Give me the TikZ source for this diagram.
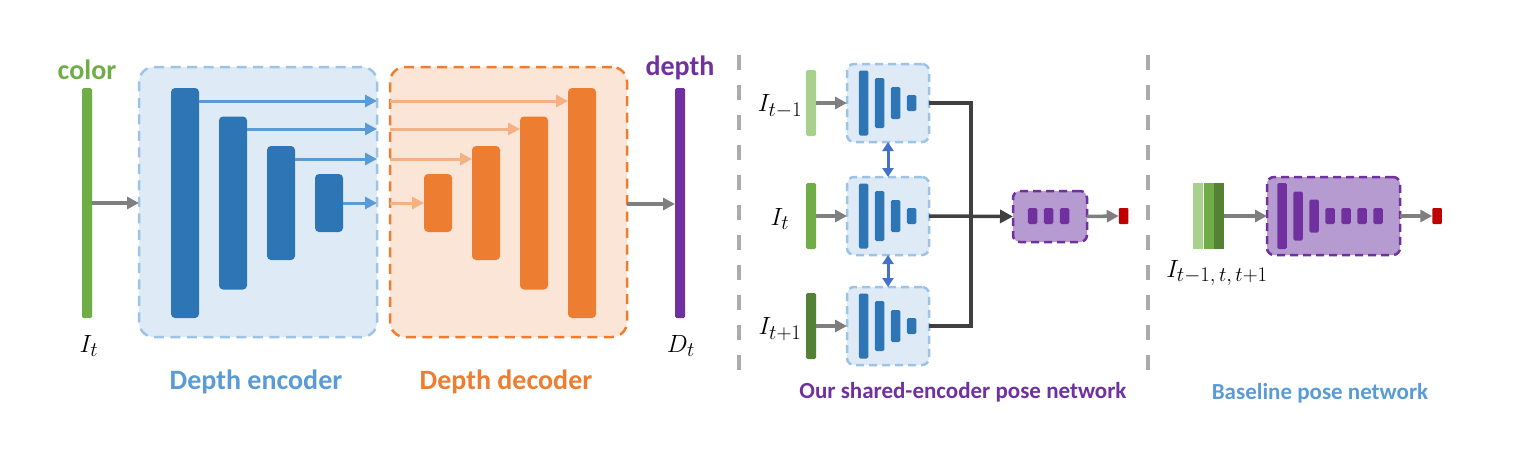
\documentclass[tikz,border=0pt]{standalone}
\usepackage{fontspec}
\setsansfont{Carlito}
\usetikzlibrary{arrows.meta, calc}

\definecolor{encblue}{HTML}{2E75B6}
\definecolor{encskipc}{HTML}{5B9BD5}
\definecolor{encfill}{HTML}{DEEBF7}
\definecolor{encborder}{HTML}{9DC3E6}
\definecolor{decorange}{HTML}{ED7D31}
\definecolor{decskipc}{HTML}{F4B183}
\definecolor{decfill}{HTML}{FBE5D6}
\definecolor{posepurple}{HTML}{7030A0}
\definecolor{posefill}{HTML}{B69BD0}
\definecolor{lgreen}{HTML}{A9D18E}
\definecolor{mgreen}{HTML}{70AD47}
\definecolor{dgreen}{HTML}{548235}
\definecolor{arrgray}{HTML}{7F7F7F}
\definecolor{linedark}{HTML}{404040}
\definecolor{sharedblue}{HTML}{4472C4}
\definecolor{outred}{HTML}{C00000}
\definecolor{sepgray}{HTML}{ABABAB}

\begin{document}
\begin{tikzpicture}[x=1pt, y=-1pt,
		every node/.style={inner sep=0pt, outer sep=0pt},
		blk/.style={rectangle, rounded corners=4pt, minimum width=28pt},
		encblk/.style={blk, fill=encblue},
		decblk/.style={blk, fill=decorange},
		smallblk/.style={rectangle, rounded corners=1.5pt, minimum width=9.5pt},
		bar/.style={rectangle, rounded corners=1.5pt, minimum width=10pt},
		encbox/.style={rectangle, rounded corners=15pt, fill=encfill, draw=encborder, line width=2.5pt, dash pattern=on 10pt off 6.5pt},
		decbox/.style={encbox, fill=decfill, draw=decorange},
		posebox/.style={rectangle, rounded corners=7pt, fill=encfill, draw=encborder, line width=2.5pt, dash pattern=on 8pt off 5pt},
		purplebox/.style={posebox, fill=posefill, draw=posepurple},
		outblk/.style={rectangle, rounded corners=1pt, fill=outred, minimum width=9.5pt, minimum height=16pt},
		encskip/.style={encskipc, line width=3pt, -{Triangle[length=12pt,width=12pt]}},
		decskip/.style={decskipc, line width=3pt, -{Triangle[length=12pt,width=12pt]}},
		grayarr/.style={arrgray, line width=3.5pt, -{Triangle[length=12pt,width=12pt]}},
		poseline/.style={linedark, line width=3.5pt},
		sharearr/.style={sharedblue, line width=3pt, {Triangle[length=9pt,width=11pt]}-{Triangle[length=9pt,width=11pt]}},
		sepline/.style={sepgray, line width=4pt, dash pattern=on 15pt off 15pt},
		biglabel/.style={font=\sffamily\bfseries\fontsize{28}{32}\selectfont},
		smalllabel/.style={font=\sffamily\bfseries\fontsize{23}{27}\selectfont},
		mathlabel/.style={font=\fontsize{24.88}{29}\selectfont}
	]
	\useasboundingbox (0,0) rectangle (1528,464);

	% depth network
	\node[encbox, minimum width=238, minimum height=270] (enc) at (258,202) {};
	\node[decbox, minimum width=237, minimum height=270] (dec) at (508.5,202) {};
	\node[bar, fill=mgreen, minimum height=230] (color) at (87,203) {};
	\node[bar, fill=posepurple, minimum height=230] (depth) at (680,203) {};
	\foreach \i/\h in {1/230,2/173,3/114,4/58}
		\node[encblk, minimum height=\h] (e\i) at ({185+48*(\i-1)},203) {};
	\foreach \i/\h in {1/58,2/114,3/173,4/230}
		\node[decblk, minimum height=\h] (d\i) at ({438+48*(\i-1)},203) {};
	\foreach \i/\j/\y in {1/4/101,2/3/129,3/2/159,4/1/203} {
		\draw[encskip] (e\i.east |- 0,\y) -- (enc.east |- 0,\y);
		\draw[decskip] (dec.west |- 0,\y) -- (d\j.west |- 0,\y);
	}
	\draw[grayarr] (color.east |- 0,203) -- (enc.west |- 0,203);
	\draw[grayarr] (dec.east |- 0,204) -- (depth.west |- 0,204);

	\node[biglabel, text=mgreen] (colortxt) at (87,70) {color};
	\node[biglabel, text=posepurple] (depthtxt) at (680,68) {depth};
	\node[mathlabel] (it) at (89,346) {$I_t$};
	\node[mathlabel] (dt) at (681,346) {$D_t$};
	\node[biglabel, text=encskipc] (enctxt) at (256,382) {Depth encoder};
	\node[biglabel, text=decorange] (dectxt) at (506,382) {Depth decoder};

	% separators
	\draw[sepline] (739,55) -- (739,372);
	\draw[sepline] (1148,55) -- (1148,372);

	% shared-encoder pose network
	\foreach \r/\y/\c/\lab in {a/103/lgreen/{I_{t-1}}, b/216/mgreen/{I_t}, c/326/dgreen/{I_{t+1}}} {
		\node[posebox, minimum width=82, minimum height=78] (pe\r) at (888,\y) {};
		\foreach \k/\h in {1/65,2/50,3/32,4/16}
			\node[smallblk, fill=encblue, minimum height=\h] (pe\r\k) at ({863.5+16*(\k-1)},\y) {};
		\node[bar, fill=\c, minimum height=66] (in\r) at (811,\y) {};
		\draw[grayarr] (in\r.east) -- (pe\r.west);
		\node[mathlabel] (lab\r) at (780,\y+3) {$\lab$};
	}
	\draw[sharearr] (pea.south) -- (peb.north);
	\draw[sharearr] (peb.south) -- (pec.north);

	\node[purplebox, minimum width=74, minimum height=51] (pnet) at (1050,216.5) {};
	\foreach \k in {1,2,3}
		\node[smallblk, fill=posepurple, minimum height=16] (pn\k) at ({1032.5+16*(\k-1)},216) {};
	\node[outblk] (pout) at (1123.5,216) {};
	\coordinate (jn) at (971,216);
	\draw[poseline] (pea.east) -| (jn);
	\draw[poseline] (pec.east) -| (jn);
	\draw[poseline, -{Triangle[length=13pt,width=13pt]}] (peb.east) -- (pnet.west);
	\draw[grayarr] (pnet.east) -- (pout.west);
	\node[smalllabel, text=posepurple] (posetxt) at (963,392) {Our shared-encoder pose network};

	% baseline pose network
	\node[bar, fill=lgreen, rounded corners=0pt, minimum height=66] (bl1) at (1198,216) {};
	\node[bar, fill=mgreen, rounded corners=0pt, minimum height=66] (bl2) at (1208.5,216) {};
	\node[bar, fill=dgreen, rounded corners=0pt, minimum height=66] (bl3) at (1219,216) {};
	\node[purplebox, minimum width=133, minimum height=78] (bnet) at (1333.5,216) {};
	\foreach \k/\h in {1/66,2/49,3/33}
		\node[smallblk, fill=posepurple, minimum height=\h] (bb\k) at ({1282+16*(\k-1)},216) {};
	\foreach \k in {1,2,3,4}
		\node[smallblk, fill=posepurple, minimum height=16] (bs\k) at ({1330+16*(\k-1)},216) {};
	\node[outblk] (bout) at (1437,216) {};
	\draw[grayarr] (bl3.east) -- (bnet.west);
	\draw[grayarr] (bnet.east) -- (bout.west);
	\node[mathlabel] (blab) at (1217,273) {$I_{t-1,\,t,\,t+1}$};
	\node[smalllabel, text=encskipc] (basetxt) at (1320,393) {Baseline pose network};
\end{tikzpicture}
\end{document}
